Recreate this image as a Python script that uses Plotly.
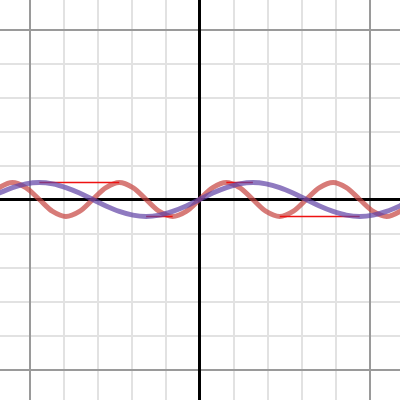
import plotly.graph_objects as go

# x positions of the sample points (1 unit = one minor cell)
curve_x = [-6.28, -5.89, -5.50, -5.11, -4.71, -4.32, -3.93, -3.53, -3.14, -2.75, -2.36,
           -1.96, -1.57, -1.18, -0.79, -0.39, 0.0, 0.39, 0.79, 1.18, 1.57, 1.96, 2.36,
           2.75, 3.14, 3.53, 3.93, 4.32, 4.71, 5.11, 5.50, 5.89, 6.28]

# red curve (fast wave)
red_y = [0, 0.35, 0.5, 0.35, 0, -0.35, -0.5, -0.35,
         0, 0.35, 0.5, 0.35, 0, -0.35, -0.5, -0.35,
         0, 0.35, 0.5, 0.35, 0, -0.35, -0.5, -0.35,
         0, 0.35, 0.5, 0.35, 0, -0.35, -0.5, -0.35, 0]

# purple curve (slow wave)
purple_y = [0, 0.19, 0.35, 0.46, 0.5, 0.46, 0.35, 0.19,
            0, -0.19, -0.35, -0.46, -0.5, -0.46, -0.35, -0.19,
            0, 0.19, 0.35, 0.46, 0.5, 0.46, 0.35, 0.19,
            0, -0.19, -0.35, -0.46, -0.5, -0.46, -0.35, -0.19, 0]

# thin red connectors between matching peaks / troughs
seg_x = [-4.71, -2.36, None, 0.79, 1.57, None, -1.57, -0.79, None, 2.36, 4.71]
seg_y = [0.5, 0.5, None, 0.5, 0.5, None, -0.5, -0.5, None, -0.5, -0.5]

fig = go.Figure()

fig.add_trace(go.Scatter(x=curve_x, y=red_y, mode="lines",
                         line=dict(color="#c74440", width=5, shape="spline"),
                         opacity=0.7, hoverinfo="skip"))
fig.add_trace(go.Scatter(x=seg_x, y=seg_y, mode="lines",
                         line=dict(color="#ee1111", width=1.5), hoverinfo="skip"))
fig.add_trace(go.Scatter(x=curve_x, y=purple_y, mode="lines",
                         line=dict(color="#6042a6", width=5, shape="spline"),
                         opacity=0.7, hoverinfo="skip"))

axis_style = dict(
    dtick=5, tick0=0,
    showgrid=True, gridcolor="#9a9a9a", gridwidth=2,
    minor=dict(dtick=1, tick0=0, showgrid=True, gridcolor="#e2e2e2", gridwidth=1.5),
    zeroline=True, zerolinecolor="black", zerolinewidth=2.5,
    showticklabels=False, ticks="", showline=False,
)

fig.update_xaxes(range=[-199.5 / 34, 200.5 / 34], **axis_style)
fig.update_yaxes(range=[-200.5 / 34, 199.5 / 34], **axis_style)

fig.update_layout(
    width=400, height=400,
    margin=dict(l=0, r=0, t=0, b=0),
    plot_bgcolor="white", paper_bgcolor="white",
    showlegend=False,
)

# drop the page's default body margin so the plot sits at 0,0
fig.write_html("out.html", config={"displayModeBar": False},
               post_script="document.body.style.margin='0';")
